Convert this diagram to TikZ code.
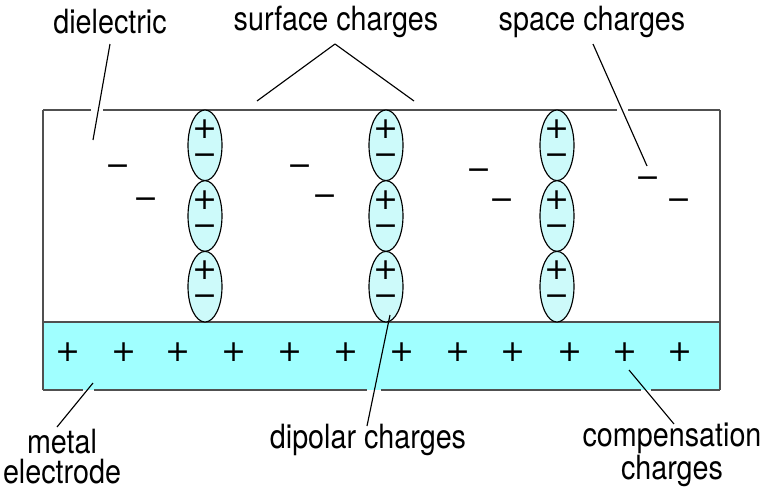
\documentclass[tikz,border=0pt]{standalone}
\usepackage{fontspec}
\setmainfont{TeX Gyre Heros}[FakeStretch=0.86]
\newfontfamily\chgfont{DejaVu Sans}
\usetikzlibrary{shapes.geometric}
\definecolor{elcyan}{RGB}{160,255,255}
\definecolor{dipcyan}{RGB}{205,250,250}
\definecolor{edge}{RGB}{80,80,80}
\begin{document}
\begin{tikzpicture}[x=0.02cm,y=-0.02cm,line width=0.65pt,
    lbl/.style={font=\fontsize{19}{17}\selectfont,inner sep=0pt,align=center},
    chg/.style={font=\chgfont\fontsize{17}{17}\selectfont,inner sep=0pt,text height=0.6em,text depth=0pt},
    dipole/.style={ellipse,draw,fill=dipcyan,minimum width=0.68cm,minimum height=1.413cm,inner sep=0pt}]
  \useasboundingbox (0,0) rectangle (768,494);
  % metal electrode
  \fill[elcyan] (43,322) rectangle (720,390);
  \draw[edge] (43,322) -- (720,322);
  \draw[edge] (43,110) -- (43,390);
  \draw[edge] (720,110) -- (720,390);
  % outline, broken where the leaders cross
  \draw[edge] (43,110) -- (91,110);
  \draw[edge] (103,110) -- (617,110);
  \draw[edge] (628,110) -- (720,110);
  \draw[edge] (43,390) -- (83,390);
  \draw[edge] (94,390) -- (367,390);
  \draw[edge] (381,390) -- (641,390);
  \draw[edge] (651,390) -- (720,390);
  % dipole chains
  \foreach \x [count=\c] in {205,386,557}{
    \foreach \y [count=\r] in {145.3,216,286.7}{
      \node[dipole] (d\c\r) at (\x,\y) {};
      \node[chg] (p\c\r) at (\x,\y-12) {+};
      \node[chg] (m\c\r) at (\x,\y+14) {−};
    }
  }
  % space charges
  \foreach \x/\y [count=\i] in {118/170, 146/203, 300/170, 325/200, 479/174, 502/204, 648/182, 679/204}{
    \node[chg] (q\i) at (\x,\y) {−};
  }
  % compensation charges
  \foreach \x [count=\i] in {68,124,178,234,290,346,402,458,513,570,625,680}{
    \node[chg] (e\i) at (\x,356) {+};
  }
  % labels
  \node[lbl] (dielectric) at (110,22) {dielectric};
  \node[lbl] (surface) at (336,22) {surface charges};
  \node[lbl] (space) at (592,22) {space charges};
  \node[lbl] (metal) at (62,457) {metal\\electrode};
  \node[lbl] (dipolar) at (368,440) {dipolar charges};
  \node[lbl] (compensation) at (672,455) {compensation\\charges};
  % leaders
  \coordinate (dielTip) at (93,140);
  \coordinate (surfL) at (257,101);
  \coordinate (surfR) at (414,101);
  \coordinate (spaceTip) at (647,166);
  \coordinate (metalTip) at (93,383);
  \coordinate (dipTip) at (390,315);
  \coordinate (compTip) at (629,370);
  \draw ([shift={(0,22)}]dielectric.center) -- (dielTip);
  \draw ([shift={(-1,22)}]surface.center) -- (surfL);
  \draw ([shift={(-1,22)}]surface.center) -- (surfR);
  \draw ([shift={(1,22)}]space.center) -- (spaceTip);
  \draw ([shift={(-5,-30)}]metal.center) -- (metalTip);
  \draw ([shift={(-1,-14)}]dipolar.center) -- (dipTip);
  \draw ([shift={(2,-31)}]compensation.center) -- (compTip);
\end{tikzpicture}
\end{document}
